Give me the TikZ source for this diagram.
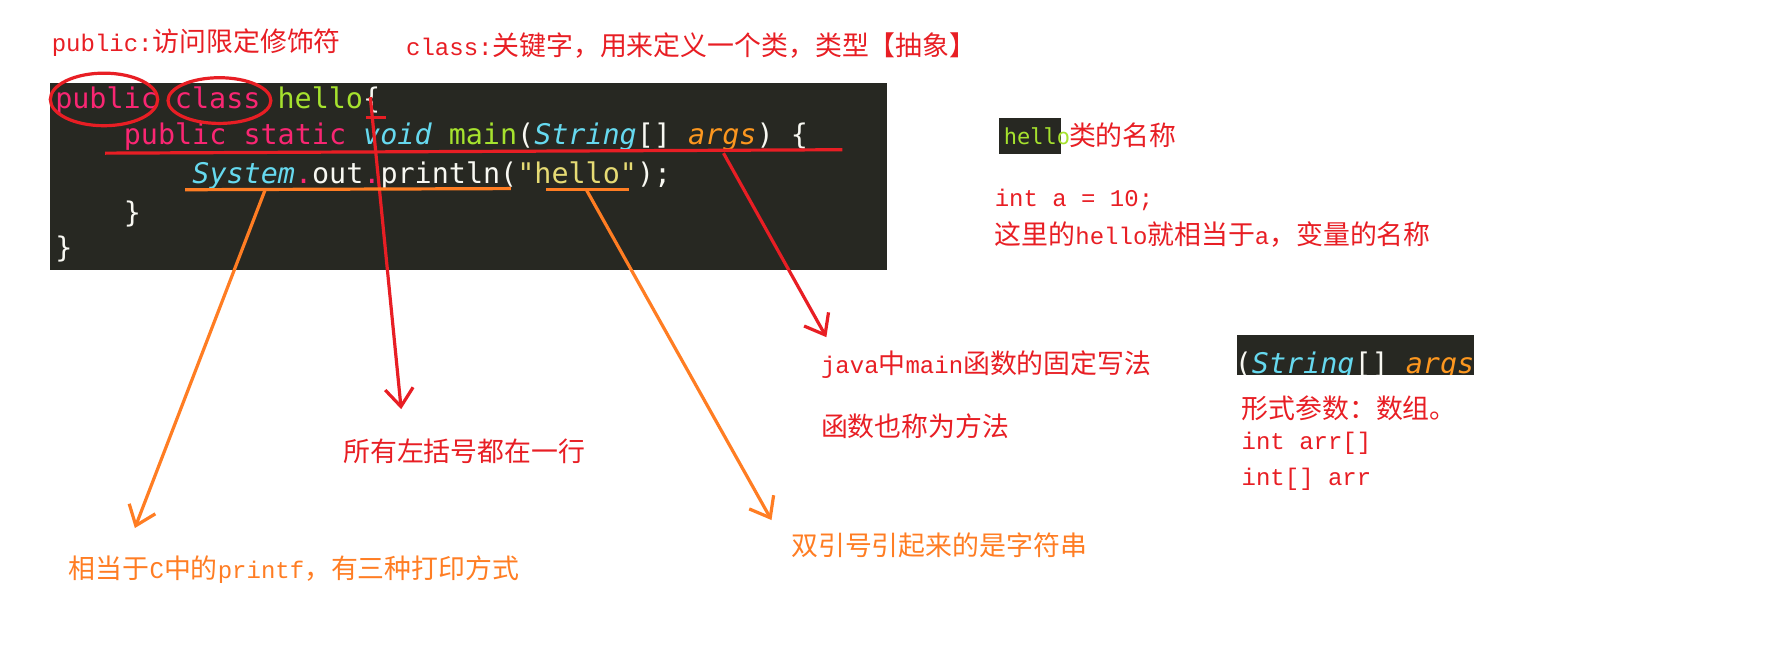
\documentclass[tikz,border=0pt]{standalone}
\usepackage{fontspec}
\setmonofont{Liberation Mono}
\newfontfamily\cjk{Noto Sans CJK SC}[Scale=1.12]
\newfontfamily\codefont{DejaVu Sans Mono}
\usetikzlibrary{arrows.meta}
\definecolor{ared}{RGB}{232,30,36}
\definecolor{aor}{RGB}{255,125,35}
\definecolor{cbg}{RGB}{39,40,34}
\definecolor{cpk}{RGB}{249,38,114}
\definecolor{cgr}{RGB}{166,226,46}
\definecolor{ccy}{RGB}{102,217,239}
\definecolor{cor}{RGB}{253,151,31}
\definecolor{cye}{RGB}{230,219,116}
\definecolor{cwh}{RGB}{248,248,242}
\tikzset{
 ann/.style={anchor=west,inner sep=0pt,font=\fontsize{12}{14}\ttfamily},
 rn/.style={ann,text=ared},
 on/.style={ann,text=aor},
 code/.style={anchor=west,inner sep=0pt,font=\fontsize{14.2}{17}\codefont,text=cwh},
 rl/.style={draw=ared,line width=1.6pt},
 ol/.style={draw=aor,line width=1.6pt},
 barb/.style={-{Straight Barb[length=9pt,width=14pt,line width=1.6pt]}}
}
\begin{document}
\begin{tikzpicture}[x=0.5714pt,y=-0.5714pt]
\useasboundingbox (0,0) rectangle (1567,566);
\fill[white] (0,0) rectangle (1567,566);
\node[rn] (t1) at (45,37) {public:{\cjk 访问限定修饰符}};
\node[rn] (t2) at (355,40) {class:{\cjk 关键字，用来定义一个类，类型【抽象】}};
\fill[cbg] (44,73) rectangle (776,236);
\node[code] (l1) at (48,88) {\textcolor{cpk}{public} \textcolor{cpk}{class} \textcolor{cgr}{hello}\{};
\node[code] (l2) at (108,120) {\textcolor{cpk}{public} \textcolor{cpk}{static} \textcolor{ccy}{\itshape void} \textcolor{cgr}{main}(\textcolor{ccy}{\itshape String}[] \textcolor{cor}{\itshape args}) \{};
\node[code] (l3) at (168,154) {\textcolor{ccy}{\itshape System}\textcolor{cpk}{.}out\textcolor{cpk}{.}println(\textcolor{cye}{"hello"});};
\node[code] (l4) at (108,187) {\}};
\node[code] (l5) at (48,218) {\}};
\draw[rl] (91,87) ellipse (47 and 23);
\draw[rl] (192,88) ellipse (45 and 20);
\coordinate (a1) at (324,85); \coordinate (a2) at (351,358);
\draw[rl,barb] (a1) -- (a2);
\draw[rl] (320,103) -- (338,103);
\coordinate (u1) at (92,134); \coordinate (u2) at (737,131);
\draw[rl] (u1) -- (u2);
\coordinate (b1) at (633,134); \coordinate (b2) at (723,295);
\draw[rl,barb] (b1) -- (b2);
\coordinate (o1) at (162,166); \coordinate (o2) at (447,165);
\draw[ol] (o1) -- (o2);
\coordinate (o3) at (478,166); \coordinate (o4) at (550,166);
\draw[ol] (o3) -- (o4);
\coordinate (c1) at (232,166); \coordinate (c2) at (118,462);
\draw[ol,barb] (c1) -- (c2);
\coordinate (d1) at (513,166); \coordinate (d2) at (675,455);
\draw[ol,barb] (d1) -- (d2);
\node[rn] (t3) at (300,395) {{\cjk 所有左括号都在一行}};
\node[on] (t4) at (60,498) {{\cjk 相当于}C{\cjk 中的}printf{\cjk ，有三种打印方式}};
\node[on] (t5) at (692,477) {{\cjk 双引号引起来的是字符串}};
\node[rn] (t6) at (718,319) {java{\cjk 中}main{\cjk 函数的固定写法}};
\node[rn] (t7) at (718,373) {{\cjk 函数也称为方法}};
\fill[cbg] (874,103) rectangle (928,135);
\node[code,text=cgr,font=\fontsize{11}{13}\codefont] (h) at (878,119) {hello};
\node[rn] (t8) at (935,118) {{\cjk 类的名称}};
\node[rn] (t9) at (870,175) {int a = 10;};
\node[rn] (t10) at (870,205) {{\cjk 这里的}hello{\cjk 就相当于}a{\cjk ，变量的名称}};
\begin{scope}
\clip (1082,293) rectangle (1290,328);
\fill[cbg] (1082,293) rectangle (1290,328);
\node[code] (s) at (1080,320) {(\textcolor{ccy}{\itshape String}[] \textcolor{cor}{\itshape args}};
\end{scope}
\node[rn] (t11) at (1086,357) {{\cjk 形式参数：数组。}};
\node[rn] (t12) at (1086,388) {int arr[]};
\node[rn] (t13) at (1086,419) {int[] arr};
\end{tikzpicture}
\end{document}
